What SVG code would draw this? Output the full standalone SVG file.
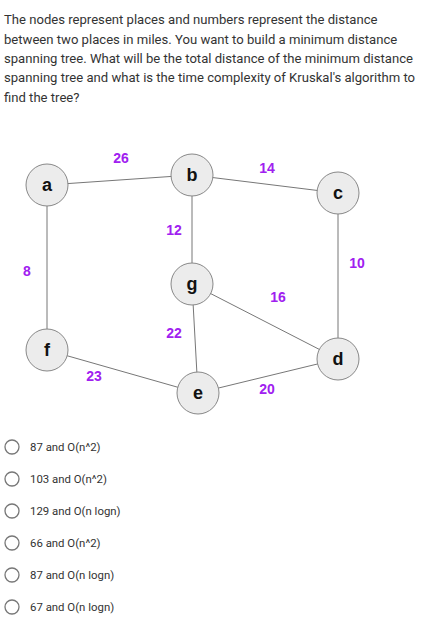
<svg xmlns="http://www.w3.org/2000/svg" width="425" height="634" viewBox="0 0 425 634">
<style>
.q{font-family:Roboto,"Liberation Sans",sans-serif;font-size:13.1px;fill:#333}
.n circle{fill:#ececec;stroke:#888;stroke-width:1}
.n text{font-family:"Liberation Sans",Arial,sans-serif;font-weight:bold;font-size:18px;fill:#111;text-anchor:middle}
.w{font-family:"Liberation Sans",Arial,sans-serif;font-weight:bold;font-size:14px;fill:#a020f0;text-anchor:middle}
.e line{stroke:#777;stroke-width:1}
.r circle{fill:#fff;stroke:#777;stroke-width:1.3}
.r text{font-family:Roboto,"Liberation Sans",sans-serif;font-size:11.4px;fill:#333}
</style>
<rect width="425" height="634" fill="#fff"/>
<g id="question" class="q">
<text x="4" y="24">The nodes represent places and numbers represent the distance</text>
<text x="4" y="44">between two places in miles. You want to build a minimum distance</text>
<text x="4" y="63">spanning tree. What will be the total distance of the minimum distance</text>
<text x="4" y="82">spanning tree and what is the time complexity of Kruskal's algorithm to</text>
<text x="4" y="102">find the tree?</text>
</g>
<g id="connectors" class="e">
<line x1="47" y1="185" x2="192" y2="175"/>
<line x1="192" y1="175" x2="338" y2="193"/>
<line x1="47" y1="185" x2="47" y2="350"/>
<line x1="192" y1="175" x2="192" y2="284"/>
<line x1="338" y1="193" x2="338" y2="359"/>
<line x1="192" y1="284" x2="338" y2="359"/>
<line x1="192" y1="284" x2="198" y2="393"/>
<line x1="47" y1="350" x2="198" y2="393"/>
<line x1="198" y1="393" x2="338" y2="359"/>
</g>
<g id="weights">
<text class="w" x="121" y="163">26</text>
<text class="w" x="267" y="173">14</text>
<text class="w" x="174" y="235">12</text>
<text class="w" x="357" y="268">10</text>
<text class="w" x="27" y="276">8</text>
<text class="w" x="278" y="302">16</text>
<text class="w" x="174" y="338">22</text>
<text class="w" x="94" y="381">23</text>
<text class="w" x="267" y="394">20</text>
</g>
<g id="node-a" class="n"><circle cx="47" cy="185" r="21"/><text x="47" y="191">a</text></g>
<g id="node-b" class="n"><circle cx="192" cy="175" r="21"/><text x="192" y="181">b</text></g>
<g id="node-c" class="n"><circle cx="338" cy="193" r="21"/><text x="338" y="199">c</text></g>
<g id="node-g" class="n"><circle cx="192" cy="284" r="21"/><text x="192" y="290">g</text></g>
<g id="node-f" class="n"><circle cx="47" cy="350" r="21"/><text x="47" y="356">f</text></g>
<g id="node-d" class="n"><circle cx="338" cy="359" r="21"/><text x="338" y="365">d</text></g>
<g id="node-e" class="n"><circle cx="198" cy="393" r="21"/><text x="198" y="399">e</text></g>
<g id="options" class="r">
<circle cx="12" cy="447" r="7"/><text x="30" y="451">87 and O(n^2)</text>
<circle cx="12" cy="479" r="7"/><text x="30" y="483">103 and O(n^2)</text>
<circle cx="12" cy="511" r="7"/><text x="30" y="515">129 and O(n logn)</text>
<circle cx="12" cy="543" r="7"/><text x="30" y="547">66 and O(n^2)</text>
<circle cx="12" cy="575" r="7"/><text x="30" y="579">87 and O(n logn)</text>
<circle cx="12" cy="607" r="7"/><text x="30" y="611">67 and O(n logn)</text>
</g>
</svg>
